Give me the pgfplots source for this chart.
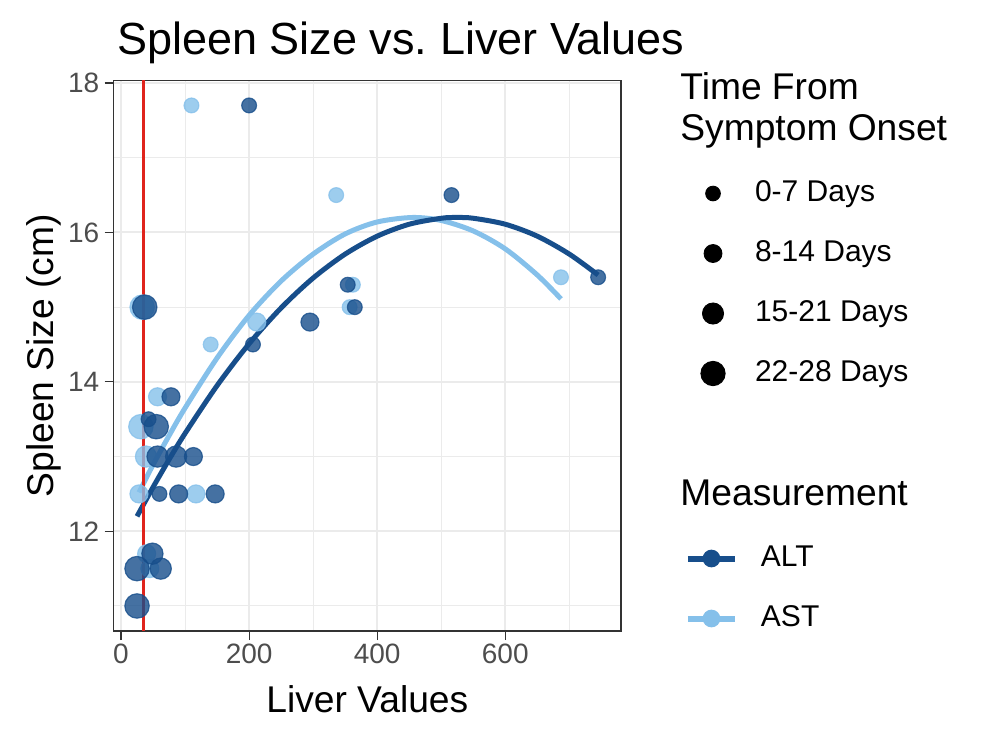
\documentclass[border=0pt]{standalone}
\usepackage{fontspec}
\setmainfont{Liberation Sans}
\usepackage{pgfplots}
\usepackage{pgfplotstable}
\pgfplotsset{compat=1.18}

\definecolor{altc}{RGB}{23,78,139}
\definecolor{astc}{RGB}{133,192,234}
\definecolor{vred}{RGB}{224,36,28}
\definecolor{gridc}{RGB}{235,235,235}
\definecolor{framec}{RGB}{51,51,51}
\definecolor{tickc}{RGB}{77,77,77}

% liver value, spleen size, time group (1 = 0-7 d ... 4 = 22-28 d)
\pgfplotstableread{
x    y     g
200  17.7  1
516  16.5  1
745  15.4  1
37   15.0  4
295  14.8  2
354  15.3  1
365  15.0  1
206  14.5  1
78   13.8  2
43   13.5  1
55   13.4  4
57   13.0  3
86   13.0  3
113  13.0  2
60   12.5  1
90   12.5  2
147  12.5  2
49   11.7  3
25   11.5  4
62   11.5  3
25   11.0  4
}\altpts

\pgfplotstableread{
x    y     g
110  17.7  1
336  16.5  1
687  15.4  1
33   15.0  4
212  14.8  2
362  15.3  1
357  15.0  1
140  14.5  1
57   13.8  2
31   13.4  4
39   13.0  3
28   12.5  2
117  12.5  2
40   11.7  2
45   11.5  2
}\astpts

\begin{document}
\begin{tikzpicture}
\useasboundingbox (-56.8pt,-54.5pt) rectangle (436.2pt,315.5pt);

\begin{axis}[
  scale only axis,
  width=253.7pt, height=275.3pt,
  xmin=-11.6, xmax=780.7,
  ymin=10.665, ymax=18.035,
  xtick={0,200,400,600}, minor xtick={100,300,500,700},
  ytick={12,14,16,18}, minor ytick={11,13,15,17},
  grid=both,
  major grid style={gridc, line width=1pt},
  minor grid style={gridc, line width=0.5pt},
  axis line style={framec, line width=0.6pt},
  tick align=outside, xtick pos=bottom, ytick pos=left,
  major tick length=4.5pt, minor tick length=0pt,
  tick style={framec, line width=0.6pt},
  /pgf/number format/assume math mode=true,
  ticklabel style={font=\fontsize{14}{16}\selectfont, text=tickc},
  yticklabel style={inner sep=2.5pt},
  xticklabel style={inner sep=2pt},
  xlabel={Liver Values}, ylabel={Spleen Size (cm)},
  label style={font=\fontsize{18.6}{22}\selectfont},
  xlabel style={at={(axis description cs:0.5,-0.1489)}, anchor=base},
  ylabel style={at={(axis description cs:-0.1188,0.5)}, anchor=base},
  legend style={draw=none, fill=none, inner sep=0pt, outer sep=0pt,
    at={(axis description cs:1.1261,0.158)}, anchor=north west,
    font=\fontsize{15}{18}\selectfont, row sep=15.5pt,
    nodes={inner sep=0pt, text height=11pt, text depth=3.5pt},
    /tikz/every odd column/.append style={column sep=11.5pt}},
  legend cell align=left,
  legend image code/.code={
    \draw[#1] (0pt,0pt) -- (23.5pt,0pt);
    \fill[#1] (11.75pt,0pt) circle (2.9pt);},
]
\addlegendimage{altc, line width=3pt}
\addlegendentry{ALT}
\addlegendimage{astc, line width=3pt}
\addlegendentry{AST}

\addplot[scatter, only marks, mark=*, forget plot,
  scatter/use mapped color={draw=astc, fill=astc},
  mark options={line width=0.6pt, draw opacity=0.8, fill opacity=0.8},
  visualization depends on={2.9+0.8*\thisrow{g} \as \rad},
  scatter/@pre marker code/.append style={/tikz/mark size=\rad}]
  table[x=x, y=y] {\astpts};

\addplot[scatter, only marks, mark=*, forget plot,
  scatter/use mapped color={draw=altc, fill=altc},
  mark options={line width=0.6pt, draw opacity=0.8, fill opacity=0.8},
  visualization depends on={2.9+0.8*\thisrow{g} \as \rad},
  scatter/@pre marker code/.append style={/tikz/mark size=\rad}]
  table[x=x, y=y] {\altpts};

% quadratic fits
\addplot[astc, line width=2.5pt, smooth, no marks, forget plot] coordinates {
  (28,12.52) (50,12.89) (75,13.28) (100,13.65) (150,14.32) (200,14.89)
  (250,15.35) (300,15.71) (350,15.98) (400,16.14) (455,16.20) (500,16.16)
  (550,16.02) (600,15.78) (650,15.43) (687,15.11)
};
\addplot[altc, line width=2.5pt, smooth, no marks, forget plot] coordinates {
  (25,12.20) (50,12.59) (75,12.96) (100,13.31) (150,13.95) (200,14.51)
  (250,14.99) (300,15.39) (350,15.71) (400,15.95) (450,16.11) (500,16.19)
  (525,16.20) (550,16.19) (600,16.11) (650,15.95) (700,15.71) (745,15.43)
};

% cut-off line
\addplot[vred, line width=1.4pt, forget plot] coordinates {(35,10.665) (35,18.035)};
\end{axis}

% size legend on its own hidden axis
\begin{axis}[
  scale only axis, hide axis,
  width=253.7pt, height=275.3pt,
  xmin=0, xmax=1, ymin=0, ymax=1,
  legend style={draw=none, fill=none, inner sep=0pt, outer sep=0pt,
    at={(axis description cs:1.1557,0.8209)}, anchor=north west,
    font=\fontsize{15}{18}\selectfont, row sep=15.5pt,
    nodes={inner sep=0pt, text height=11pt, text depth=3.5pt},
    /tikz/every odd column/.append style={column sep=14.5pt}},
  legend cell align=left,
  legend image code/.code={
    \path[draw=none, fill=none] (-6.5pt,0pt) rectangle (6.5pt,0.1pt);
    \fill[#1] (0pt,0pt) circle (\pgfkeysvalueof{/pgfplots/legend dot});},
  /pgfplots/legend dot/.initial=3.7pt,
]
\addlegendimage{black, /pgfplots/legend dot=3.7pt}
\addlegendentry{0-7 Days}
\addlegendimage{black, /pgfplots/legend dot=4.5pt}
\addlegendentry{8-14 Days}
\addlegendimage{black, /pgfplots/legend dot=5.3pt}
\addlegendentry{15-21 Days}
\addlegendimage{black, /pgfplots/legend dot=6.1pt}
\addlegendentry{22-28 Days}
\end{axis}

\node[anchor=base west, inner sep=0pt, font=\fontsize{22.5}{27}\selectfont]
  at (1.7pt,288pt) {Spleen Size vs.\ Liver Values};
\node[anchor=base west, inner sep=0pt, align=left,
  font=\fontsize{18.6}{20.5}\selectfont]
  at (283.2pt,245.35pt) {Time From\\Symptom Onset};
\node[anchor=base west, inner sep=0pt, font=\fontsize{18.6}{22}\selectfont]
  at (283.2pt,63pt) {Measurement};
\end{tikzpicture}
\end{document}
